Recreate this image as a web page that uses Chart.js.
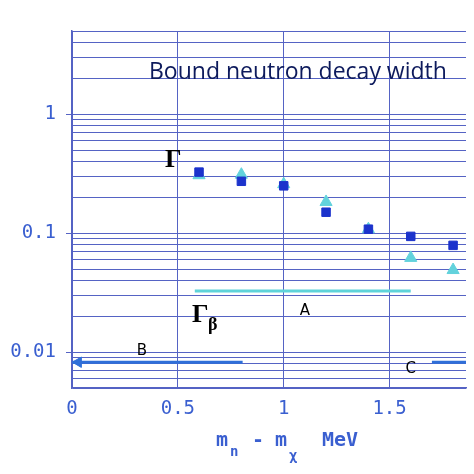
<!DOCTYPE html>
<html><head><meta charset="utf-8">
<script src="https://cdn.jsdelivr.net/npm/chart.js@4"></script>
<style>html,body{margin:0;padding:0;background:#fff;overflow:hidden}#w{width:474px;height:474px;position:relative}</style>
</head><body><div id="w"><canvas id="c"></canvas></div>
<script>
const xCats = [0.6, 0.8, 1.0, 1.2, 1.4, 1.6, 1.8];
const gammaSquares = [0.326, 0.273, 0.25, 0.15, 0.108, 0.094, 0.079];
const gammaTriangles = [0.307, 0.31, 0.258, 0.183, 0.108, 0.062, 0.049];
const lineA = {x: [0.58, 1.6], y: 0.0326};
const lineB = {x: [0.0, 0.806], y: 0.00824};
const lineC = {x: [1.7, 1.87], y: 0.00824};
const xTicks = [0, 0.5, 1, 1.5];
const yLabelTicks = [1, 0.1, 0.01];
const yGrid = [];
for (const p of [0.001, 0.01, 0.1, 1]) for (let m = 1; m <= 9; m++) { const v = +(m * p).toPrecision(2); if (v >= 0.005 && v <= 5) yGrid.push(v); }

const blue = '#3a5fd0', grid = '#5563c4';
const pts = (ys) => xCats.map((x, i) => ({x, y: ys[i]}));
const seg = (l) => l.x.map(x => ({x, y: l.y}));

const textPlugin = {
  id: 'txt',
  afterDraw(ch) {
    const c = ch.ctx, xs = ch.scales.x;
    c.save();
    c.fillStyle = '#0d1a5c'; c.font = '23px "Open Sans", sans-serif'; c.textBaseline = 'alphabetic'; c.textAlign = 'left';
    c.fillText('Bound neutron decay width', 149, 79);
    c.fillStyle = '#000'; c.font = '15px "DejaVu Sans", sans-serif';
    c.textAlign = 'center';
    c.fillText('A', xs.getPixelForValue(1.1), 315);
    c.fillText('B', xs.getPixelForValue(0.33), 355);
    c.fillText('C', xs.getPixelForValue(1.6), 373);
    c.font = 'bold 26px "Liberation Serif", serif'; c.textAlign = 'left';
    c.fillText('Γ', 165, 167);
    c.fillText('Γ', 192, 322);
    c.font = 'bold 18px "Liberation Serif", serif';
    c.fillText('β', 208, 330);
    c.fillStyle = blue; c.font = 'bold 20px "DejaVu Sans Mono", monospace';
    c.fillText('m', 216, 446); c.fillText('-', 252, 446); c.fillText('m', 275, 446); c.fillText('MeV', 322, 446);
    c.font = 'bold 14px "DejaVu Sans Mono", monospace';
    c.fillText('n', 230, 456); c.fillText('χ', 289, 460);
    c.restore();
  }
};

new Chart(document.getElementById('c'), {
  type: 'scatter',
  data: { datasets: [
    {data: seg(lineA), showLine: true, borderColor: '#5fd3d9', borderWidth: 3, pointRadius: 0},
    {data: seg(lineB), showLine: true, borderColor: '#2f6fd8', borderWidth: 3, pointRadius: [0, 0]},
    {data: [{x: 0.03, y: lineB.y}], pointRadius: 6, pointStyle: 'triangle', rotation: -90, backgroundColor: '#2f6fd8', borderColor: '#2f6fd8'},
    {data: seg(lineC), showLine: true, borderColor: '#2f6fd8', borderWidth: 3, pointRadius: 0},
    {data: pts(gammaSquares), pointStyle: 'rect', pointRadius: 6, backgroundColor: '#1c33cc', borderColor: '#1c33cc'},
    {data: pts(gammaTriangles), pointStyle: 'triangle', pointRadius: 7, backgroundColor: '#62d2dc', borderColor: '#62d2dc'}
  ]},
  options: {
    responsive: true, maintainAspectRatio: false, animation: false,
    layout: {padding: {top: 31, right: 0, left: 0, bottom: 0}},
    plugins: {legend: {display: false}, tooltip: {enabled: false}},
    scales: {
      x: {type: 'linear', min: 0, max: 1.861,
        afterBuildTicks: s => { s.ticks = xTicks.map(v => ({value: v})); },
        afterFit: s => { s.height = 86; },
        grid: {color: grid, lineWidth: 1, drawTicks: false},
        border: {color: grid, width: 1.5},
        ticks: {color: blue, padding: 10, font: {family: '"DejaVu Sans Mono", monospace', size: 19}, maxRotation: 0, autoSkip: false,
          callback: v => String(v)}
      },
      y: {type: 'logarithmic', min: 0.005, max: 5,
        afterBuildTicks: s => { s.ticks = yGrid.map(v => ({value: v})); },
        afterFit: s => { s.width = 72; },
        grid: {color: grid, lineWidth: 1, drawTicks: true, tickLength: 6, tickColor: ctx => yLabelTicks.includes(ctx.tick && ctx.tick.value) ? grid : 'rgba(0,0,0,0)'},
        border: {color: grid, width: 1.5},
        ticks: {color: blue, padding: 10, autoSkip: false, font: {family: '"DejaVu Sans Mono", monospace', size: 19},
          callback: v => yLabelTicks.includes(+(+v).toPrecision(2)) ? String(+(+v).toPrecision(2)) : ''}
      }
    }
  },
  plugins: [textPlugin]
});
</script></body></html>
